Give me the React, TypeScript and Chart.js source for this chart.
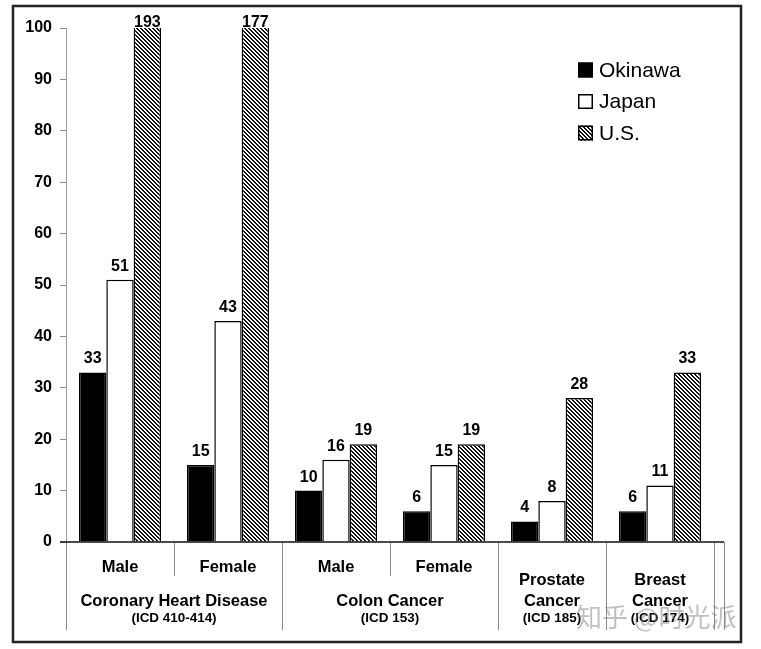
import React, { useEffect, useRef } from 'react';
import { Chart, registerables } from 'chart.js';

Chart.register(...registerables);

// ---------- data ----------
const categoryLabels: string[][] = [['Male'], ['Female'], ['Male'], ['Female'], ['Prostate', 'Cancer'], ['Breast', 'Cancer']];
const categoryKeys = ['CHD-M', 'CHD-F', 'CC-M', 'CC-F', 'PC', 'BC'];
const seriesNames = ['Okinawa', 'Japan', 'U.S.'];
const okinawaValues = [33, 15, 10, 6, 4, 6];
const japanValues = [51, 43, 16, 15, 8, 11];
const usValues = [193, 177, 19, 19, 28, 33];
const groupNames = ['Coronary Heart Disease', 'Colon Cancer', '', ''];
const groupCodes = ['(ICD 410-414)', '(ICD 153)', '(ICD 185)', '(ICD 174)'];
const groupStart = [0, 2, 4, 5];
const groupEnd = [1, 3, 4, 5];
const yMin = 0;
const yMax = 100;
const yStep = 10;
const watermark = '知乎 @时光派';

const FONT = '"Liberation Sans", Arial, Helvetica, sans-serif';

function makeHatch(): CanvasPattern | string {
  const c = document.createElement('canvas');
  c.width = 4;
  c.height = 4;
  const g = c.getContext('2d');
  if (!g) return '#666';
  g.fillStyle = '#fff';
  g.fillRect(0, 0, 4, 4);
  g.fillStyle = '#111';
  for (let i = 0; i < 4; i++) {
    g.fillRect(i, i, 1, 1);
    g.fillRect((i + 1) % 4, i, 1, 1);
  }
  return g.createPattern(c, 'repeat') || '#666';
}

export default function App() {
  const ref = useRef<HTMLCanvasElement | null>(null);

  useEffect(() => {
    const canvas = ref.current;
    if (!canvas) return;
    const hatch = makeHatch();
    const fills: any[] = ['#000', '#fff', hatch];

    const decor = {
      id: 'decor',
      beforeDraw(chart: any) {
        const ctx = chart.ctx;
        ctx.save();
        ctx.fillStyle = '#fff';
        ctx.fillRect(0, 0, chart.width, chart.height);
        ctx.restore();
      },
      afterDatasetsDraw(chart: any) {
        const ctx = chart.ctx;
        const area = chart.chartArea;
        ctx.save();
        ctx.fillStyle = '#000';
        ctx.font = `bold 16px ${FONT}`;
        ctx.textAlign = 'center';
        ctx.textBaseline = 'alphabetic';
        chart.data.datasets.forEach((ds: any, di: number) => {
          const meta = chart.getDatasetMeta(di);
          meta.data.forEach((el: any, i: number) => {
            const v = ds.data[i];
            const clipped = el.y < area.top;
            const top = Math.max(el.y, area.top);
            ctx.fillText(String(v), el.x, clipped ? top - 1 : top - 9);
          });
        });
        ctx.restore();
      },
      afterDraw(chart: any) {
        const ctx = chart.ctx;
        const area = chart.chartArea;
        const xs = chart.scales.x;
        const n = categoryKeys.length;
        const px = (i: number) => xs.getPixelForValue(i);
        const w = n > 1 ? px(1) - px(0) : area.right - area.left;
        const edgeL = px(0) - w / 2;
        const edgeR = px(n - 1) + w / 2;
        const base = area.bottom;
        ctx.save();

        // separators
        ctx.strokeStyle = '#8a8a8a';
        ctx.lineWidth = 1;
        const vline = (x: number, y2: number) => {
          ctx.beginPath();
          ctx.moveTo(Math.round(x) + 0.5, base);
          ctx.lineTo(Math.round(x) + 0.5, y2);
          ctx.stroke();
        };
        for (let g = 0; g < groupStart.length; g++) {
          vline(px(groupStart[g]) - w / 2, base + 88);
          for (let i = groupStart[g]; i < groupEnd[g]; i++) {
            vline(px(i) + w / 2, base + 34);
          }
        }
        vline(edgeR, base + 88);
        vline(edgeR + 10, base + 88);

        // baseline
        ctx.strokeStyle = '#111';
        ctx.lineWidth = 1.5;
        ctx.beginPath();
        ctx.moveTo(edgeL - 6, base);
        ctx.lineTo(edgeR + 10, base);
        ctx.stroke();

        // category labels
        ctx.fillStyle = '#000';
        ctx.textAlign = 'center';
        ctx.textBaseline = 'middle';
        ctx.font = `bold 16.5px ${FONT}`;
        categoryLabels.forEach((lines, i) => {
          if (lines.length === 1) {
            ctx.fillText(lines[0], px(i), base + 25);
          } else {
            lines.forEach((t, k) => ctx.fillText(t, px(i), base + 38 + k * 21));
          }
        });
        // group names + codes
        for (let g = 0; g < groupStart.length; g++) {
          const cx = (px(groupStart[g]) + px(groupEnd[g])) / 2;
          if (groupNames[g]) {
            ctx.font = `bold 16.5px ${FONT}`;
            ctx.fillText(groupNames[g], cx, base + 59);
          }
          ctx.save();
          ctx.translate(cx, base + 77);
          ctx.scale(1.12, 1);
          ctx.font = `bold 12px ${FONT}`;
          ctx.fillText(groupCodes[g], 0, 0);
          ctx.restore();
        }

        // legend
        const lx = 578;
        const ly0 = 70;
        const lgap = 31.5;
        chart.data.datasets.forEach((ds: any, di: number) => {
          const cy = ly0 + di * lgap;
          ctx.fillStyle = ds.backgroundColor;
          ctx.fillRect(lx, cy - 7.5, 15, 15);
          ctx.strokeStyle = '#000';
          ctx.lineWidth = 1.5;
          ctx.strokeRect(lx + 0.75, cy - 6.75, 13.5, 13.5);
          ctx.fillStyle = '#000';
          ctx.textAlign = 'left';
          ctx.textBaseline = 'middle';
          ctx.font = `21px ${FONT}`;
          ctx.fillText(ds.label, 599, cy + 1);
        });

        // frame
        ctx.strokeStyle = '#222';
        ctx.lineWidth = 2.5;
        ctx.strokeRect(13, 6, 728, 636);

        // watermark
        ctx.fillStyle = 'rgba(130,130,130,0.5)';
        ctx.font = `26px "Noto Sans CJK SC", sans-serif`;
        ctx.textAlign = 'left';
        ctx.textBaseline = 'middle';
        ctx.fillText(watermark, 576, 617);

        ctx.restore();
      },
    };

    const mk = (label: string, data: number[], fill: any) => ({
      label,
      data,
      backgroundColor: fill,
      borderColor: '#000',
      borderWidth: 1.5,
      categoryPercentage: 0.76,
      barPercentage: 1.0,
      clip: 0,
    });

    const chart = new Chart(canvas, {
      type: 'bar',
      data: {
        labels: categoryKeys,
        datasets: [
          mk(seriesNames[0], okinawaValues, fills[0]),
          mk(seriesNames[1], japanValues, fills[1]),
          mk(seriesNames[2], usValues, fills[2]),
        ] as any,
      },
      options: {
        responsive: false,
        animation: false,
        devicePixelRatio: 1,
        layout: { padding: { left: 13, right: 47, top: 28, bottom: 107 } },
        plugins: { legend: { display: false }, tooltip: { enabled: false } },
        scales: {
          x: { display: false, offset: true },
          y: {
            min: yMin,
            max: yMax,
            ticks: {
              stepSize: yStep,
              color: '#000',
              padding: 8,
              font: { family: FONT, size: 16, weight: 'bold' },
            },
            grid: { drawOnChartArea: false, drawTicks: true, tickLength: 6, tickColor: '#8a8a8a', color: '#8a8a8a' },
            border: { display: true, color: '#9a9a9a', width: 1 },
            afterFit: (s: any) => {
              s.width = 53;
            },
          },
        },
      } as any,
      plugins: [decor],
    });

    return () => chart.destroy();
  }, []);

  return (
    <div style={{ position: 'absolute', left: 0, top: 0, width: 761, height: 649 }}>
      <canvas ref={ref} width={761} height={649} style={{ display: 'block', width: 761, height: 649 }} />
    </div>
  );
}
